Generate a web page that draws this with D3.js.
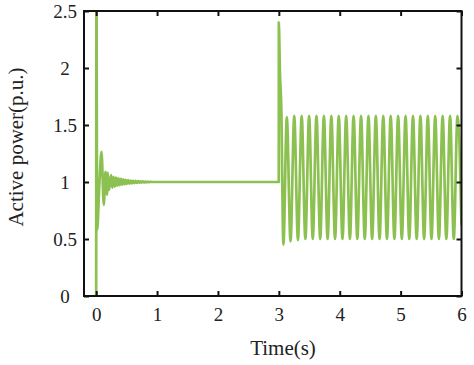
<!DOCTYPE html>
<html><head><meta charset="utf-8">
<script src="https://cdn.jsdelivr.net/npm/d3@7"></script>
<style>body{margin:0;background:#fff}svg{display:block}text{font-family:"Liberation Serif","Times New Roman",serif;fill:#222}</style>
</head><body>
<svg id="c" width="474" height="365"></svg>
<script>
// Tick labels
const xTicks = [0, 1, 2, 3, 4, 5, 6];
const yTicks = [0, 0.5, 1, 1.5, 2, 2.5];
const xLabel = "Time(s)";
const yLabel = "Active power(p.u.)";

// Start-up transient (time s, active power p.u.)
const tStart = [0, 0.004, 0.016, 0.05, 0.087, 0.125, 0.152, 0.177, 0.19, 0.21, 0.246, 0.265, 0.285, 0.305, 0.325, 0.345, 0.365, 0.385, 0.405, 0.425, 0.445, 0.465, 0.485, 0.505, 0.525, 0.545, 0.565, 0.585, 0.605, 0.625, 0.645, 0.665, 0.685, 0.705, 0.725, 0.745, 0.765, 0.785, 0.805, 0.825, 0.845, 0.865, 0.885, 0.91];
const pStart = [0, 2.8, 0.58, 0.95, 1.265, 0.80, 1.09, 0.89, 1.08, 0.93, 1.06, 0.95, 1.045, 0.96, 1.038, 0.967, 1.032, 0.972, 1.027, 0.976, 1.023, 0.98, 1.019, 0.983, 1.016, 0.986, 1.013, 0.988, 1.011, 0.99, 1.009, 0.992, 1.007, 0.994, 1.006, 0.995, 1.005, 0.996, 1.004, 0.997, 1.003, 0.998, 1.002, 1.0];

// Steady state and disturbance at t = 3 s
const tStep = [2.999, 3.0, 3.017, 3.04, 3.075];
const pStep = [1.0, 2.40, 1.98, 1.66, 0.45];

// Sustained oscillation: peaks and troughs
const tPeak = [3.131, 3.253, 3.375, 3.497, 3.618, 3.740, 3.862, 3.984, 4.106, 4.228, 4.350, 4.472, 4.593, 4.715, 4.837, 4.959, 5.081, 5.203, 5.325, 5.447, 5.568, 5.690, 5.812, 5.934];
const pPeak = [1.57, 1.58, 1.58, 1.58, 1.58, 1.58, 1.58, 1.58, 1.58, 1.58, 1.58, 1.58, 1.58, 1.58, 1.58, 1.58, 1.58, 1.58, 1.58, 1.58, 1.58, 1.58, 1.58, 1.58];
const tTrough = [3.192, 3.314, 3.436, 3.557, 3.679, 3.801, 3.923, 4.045, 4.167, 4.289, 4.411, 4.532, 4.654, 4.776, 4.898, 5.020, 5.142, 5.264, 5.386, 5.507, 5.629, 5.751, 5.873, 6.0];
const pTrough = [0.48, 0.49, 0.50, 0.50, 0.50, 0.50, 0.50, 0.50, 0.50, 0.50, 0.50, 0.50, 0.50, 0.50, 0.50, 0.50, 0.50, 0.50, 0.50, 0.50, 0.50, 0.50, 0.50, 0.62];

const svg = d3.select("#c");
const L = 84, R = 461.5, T = 11, B = 296;
const x = d3.scaleLinear().domain([-0.2, 6]).range([L, R]);
const y = d3.scaleLinear().domain([0, 2.5]).range([B, T]);

// assemble points
const pts = [];
tStart.forEach((t, i) => pts.push([t, pStart[i]]));
tStep.forEach((t, i) => pts.push([t, pStep[i]]));
tPeak.forEach((t, i) => {
  pts.push([t, pPeak[i]]);
  pts.push([tTrough[i], pTrough[i]]);
});
pts.sort((a, b) => a[0] - b[0]);

svg.append("defs").append("clipPath").attr("id", "clip")
  .append("rect").attr("x", L).attr("y", T).attr("width", R - L).attr("height", B - T);

const line = d3.line().x(d => x(d[0])).y(d => y(d[1])).curve(d3.curveMonotoneX);
svg.append("path").datum(pts).attr("clip-path", "url(#clip)")
  .attr("d", line).attr("fill", "none").attr("stroke", "#8cc152")
  .attr("stroke-width", 2.7).attr("stroke-linejoin", "round");

// axes with inward ticks on all four sides
const fs = 19;
const ax = svg.append("g");
ax.append("g").attr("transform", `translate(0,${B})`)
  .call(d3.axisBottom(x).tickValues(xTicks).tickSize(-5).tickPadding(12).tickFormat(d3.format("d")));
ax.append("g").attr("transform", `translate(0,${T})`)
  .call(d3.axisTop(x).tickValues(xTicks).tickSize(-5).tickFormat(""));
const yl = ax.append("g").attr("transform", `translate(${L},0)`)
  .call(d3.axisLeft(y).tickValues(yTicks).tickSize(-5).tickFormat(d => String(d)));
yl.selectAll(".tick text").attr("text-anchor", "middle").attr("x", 65 - L);
ax.append("g").attr("transform", `translate(${R},0)`)
  .call(d3.axisRight(y).tickValues(yTicks).tickSize(-5).tickFormat(""));
ax.selectAll(".domain").remove();
ax.selectAll(".tick line").attr("stroke", "#111").attr("stroke-width", 2);
ax.selectAll(".tick text").style("font-size", fs + "px").style("font-family", '"Liberation Serif",serif').attr("fill", "#222");
svg.append("rect").attr("x", L).attr("y", T).attr("width", R - L).attr("height", B - T)
  .attr("fill", "none").attr("stroke", "#111").attr("stroke-width", 2);

svg.append("text").attr("x", 283).attr("y", 355).attr("text-anchor", "middle")
  .style("font-size", "21px").text(xLabel);
svg.append("text").attr("transform", "translate(23,147) rotate(-90)").attr("text-anchor", "middle")
  .style("font-size", "21px").text(yLabel);
</script>
</body></html>
